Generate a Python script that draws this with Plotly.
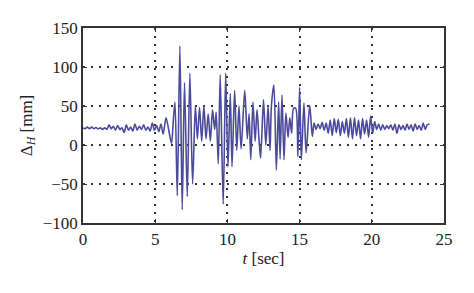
import plotly.graph_objects as go

# vertices (peaks/troughs), t in sec, value in mm
t_sec = [0.0, 0.15, 0.3, 0.45, 0.6, 0.75, 0.9, 1.05, 1.2, 1.35, 1.5, 1.65, 1.8, 1.95, 2.1, 2.25,
         2.4, 2.55, 2.7, 2.85, 3.0, 3.15, 3.3, 3.45, 3.6, 3.75, 3.9, 4.05, 4.2, 4.35, 4.5, 4.65,
         4.8, 4.95, 5.1, 5.25, 5.4, 5.55, 5.75, 5.95, 6.13, 6.25, 6.37, 6.53, 6.71, 6.87, 7.03,
         7.22, 7.40, 7.59, 7.78, 7.92, 8.07, 8.22, 8.37, 8.52, 8.67, 8.82, 8.97, 9.12, 9.22,
         9.37, 9.50, 9.71, 9.88, 10.04, 10.2, 10.32, 10.5, 10.65, 10.8, 10.95, 11.2, 11.38,
         11.5, 11.62, 11.77, 11.92, 12.05, 12.18, 12.3, 12.5, 12.66, 12.82, 12.95, 13.05,
         13.22, 13.39, 13.55, 13.65, 13.78, 13.92, 14.05, 14.2, 14.32, 14.45, 14.58, 14.73,
         14.88, 15.0, 15.12, 15.3, 15.45, 15.7, 15.88, 16.0, 16.14, 16.28, 16.42, 16.56, 16.7,
         16.84, 16.98, 17.12, 17.26, 17.4, 17.54, 17.68, 17.82, 17.96, 18.1, 18.24, 18.38,
         18.52, 18.66, 18.8, 18.94, 19.08, 19.22, 19.36, 19.5, 19.64, 19.78, 19.92, 20.06,
         20.2, 20.34, 20.48, 20.62, 20.76, 20.9, 21.04, 21.18, 21.32, 21.46, 21.6, 21.74,
         21.88, 22.02, 22.16, 22.3, 22.44, 22.58, 22.72, 22.86, 23.0, 23.14, 23.28, 23.42,
         23.56, 23.7, 23.84, 24.0]
delta_h = [22, 21, 23, 21, 23, 21, 22.5, 20.5, 22, 20, 22, 20, 26, 21, 24, 19,
           25, 20, 22, 16, 26, 19, 23, 18, 27, 19, 24, 20, 26, 19, 23, 18,
           28, 19, 25, 17, 27, 14, 35, 18, 2, 30, 55, -65, 127, -83, 80,
           -66, 92, -50, 50, 8, 48, 5, 50, 8, 40, 5, 45, 20, 42,
           -24, 90, -76, 92, -28, 66, -28, 70, -7, 50, -5, 70, 8,
           40, -19, 55, 5, 45, 10, -17, 58, 0, 50, -7, 51,
           77, -32, 55, -18, 64, -19, 41, 10, 35, 15, 47, 47,
           -15, 74, -19, 54, -10, 51, 11, 28, 20, 27, 21, 29, 19,
           28, 15, 32, 12, 34, 16, 33, 12, 30, 15, 34, 10,
           35, 8, 35, 12, 32, 8, 34, 14, 32, 10, 37, 15,
           30, 20, 27, 19, 26, 20, 25, 21, 26, 19, 27, 15,
           26, 20, 25, 19, 27, 20, 26, 18, 27, 20, 25, 19,
           28, 20, 26, 27]

x_ticks = [0, 5, 10, 15, 20, 25]
y_ticks = [-100, -50, 0, 50, 100, 150]

fig = go.Figure()
fig.add_trace(go.Scatter(x=t_sec, y=delta_h, mode="lines",
                         line=dict(color="#4b4b9c", width=1.6, shape="spline", smoothing=0.8),
                         showlegend=False, hoverinfo="skip"))

font = dict(family="Liberation Serif, Times New Roman, serif", size=17, color="#222")
axis_common = dict(showline=True, linecolor="#333", linewidth=1.5, mirror="ticks",
                   ticks="inside", ticklen=4, tickcolor="#333",
                   showgrid=True, gridcolor="#333", griddash="1.5px,6.5px", gridwidth=1.5,
                   zeroline=False, tickfont=font)
fig.update_xaxes(range=[0, 25], tickvals=x_ticks,
                 title=dict(text="<i>t</i> [sec]", font=font, standoff=4), **axis_common)
fig.update_yaxes(range=[-100, 150], tickvals=y_ticks,
                 title=dict(text="Δ<sub><i>H</i></sub> [mm]", font=font, standoff=6), **axis_common)
fig.update_layout(width=474, height=293, margin=dict(l=83, r=30, t=28, b=70),
                  paper_bgcolor="white", plot_bgcolor="white", font=font)
fig.write_html("out.html")
